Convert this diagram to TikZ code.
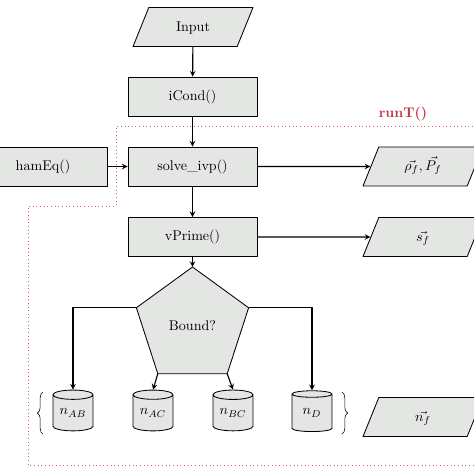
\documentclass[tikz,border=0pt]{standalone}
\usetikzlibrary{shapes.geometric,decorations.pathreplacing}
\definecolor{boxgray}{RGB}{228,230,228}
\definecolor{runred}{RGB}{196,52,72}
\tikzset{
  proc/.style={draw,fill=boxgray,minimum width=3.225cm,minimum height=0.975cm,inner sep=0pt},
  io/.style={draw,fill=boxgray,trapezium,trapezium left angle=68,trapezium right angle=112,
    text width=1.5cm,align=center,text height=0.3cm,text depth=0.1cm,
    inner xsep=0.355cm,inner ysep=0.2875cm},
  db/.style={draw,fill=boxgray,cylinder,shape border rotate=90,aspect=0.35,
    minimum width=1cm,minimum height=1.02cm,inner sep=0pt},
  decide/.style={draw,fill=boxgray,regular polygon,regular polygon sides=5,
    minimum size=2.95cm,inner sep=0pt,outer sep=0pt},
  link/.style={->,thick},
}
\begin{document}
\begin{tikzpicture}[x=0.025cm,y=-0.025cm,>=stealth,line join=round,semithick]
				\useasboundingbox (0,0) rectangle (474,474);
				% flow nodes
				\node[io] (input) at (193,27) {Input};
				\node[proc] (icond) at (192.5,96.5) {iCond()};
				\node[proc] (solve) at (192.5,166.5) {solve\_ivp()};
				\node[proc] (hameq) at (43,166.5) {hamEq()};
				\node[proc] (vprime) at (192.5,237) {vPrime()};
				\node[decide] (bound) at (192.5,326) {Bound?};
				\node[io] (rhoP) at (423,166.5) {$\vec{\rho_f}, \vec{P_f}$};
				\node[io] (sf) at (423,237) {$\vec{s_f}$};
				\node[io] (nf) at (423,417) {$\vec{n_f}$};
				% populations
				\node[db] (nab) at (73,413) {$n_{AB}$};
				\node[db] (nac) at (153,413) {$n_{AC}$};
				\node[db] (nbc) at (233,413) {$n_{BC}$};
				\node[db] (nd) at (312,413) {$n_{D}$};
				% arrows
				\draw[link] (input) -- (icond);
				\draw[link] (icond) -- (solve);
				\draw[link] (hameq) -- (solve);
				\draw[link] (solve) -- (vprime);
				\draw[link] (solve) -- (rhoP);
				\draw[link] (vprime) -- (sf);
				\draw[link] (vprime) -- (bound.corner 1);
				\draw[link] (bound.corner 2) -| (nab.top);
				\draw[link] (bound.corner 5) -| (nd.top);
				\draw[link] (bound.corner 3) -- (nac.top);
				\draw[link] (bound.corner 4) -- (nbc.top);
				% braces
				\draw[thin,decorate,decoration={brace,amplitude=4pt}] (43,434) -- (43,392);
				\draw[thin,decorate,decoration={brace,amplitude=4pt}] (342,392) -- (342,434);
				% runT() region
				\draw[runred!80,dotted,semithick] (480,126) -- (116,126) -- (116,206) -- (28,206) -- (28,465) -- (480,465);
				\node[runred,font=\bfseries] (runt) at (403,114) {runT()};
			\end{tikzpicture}
\end{document}
